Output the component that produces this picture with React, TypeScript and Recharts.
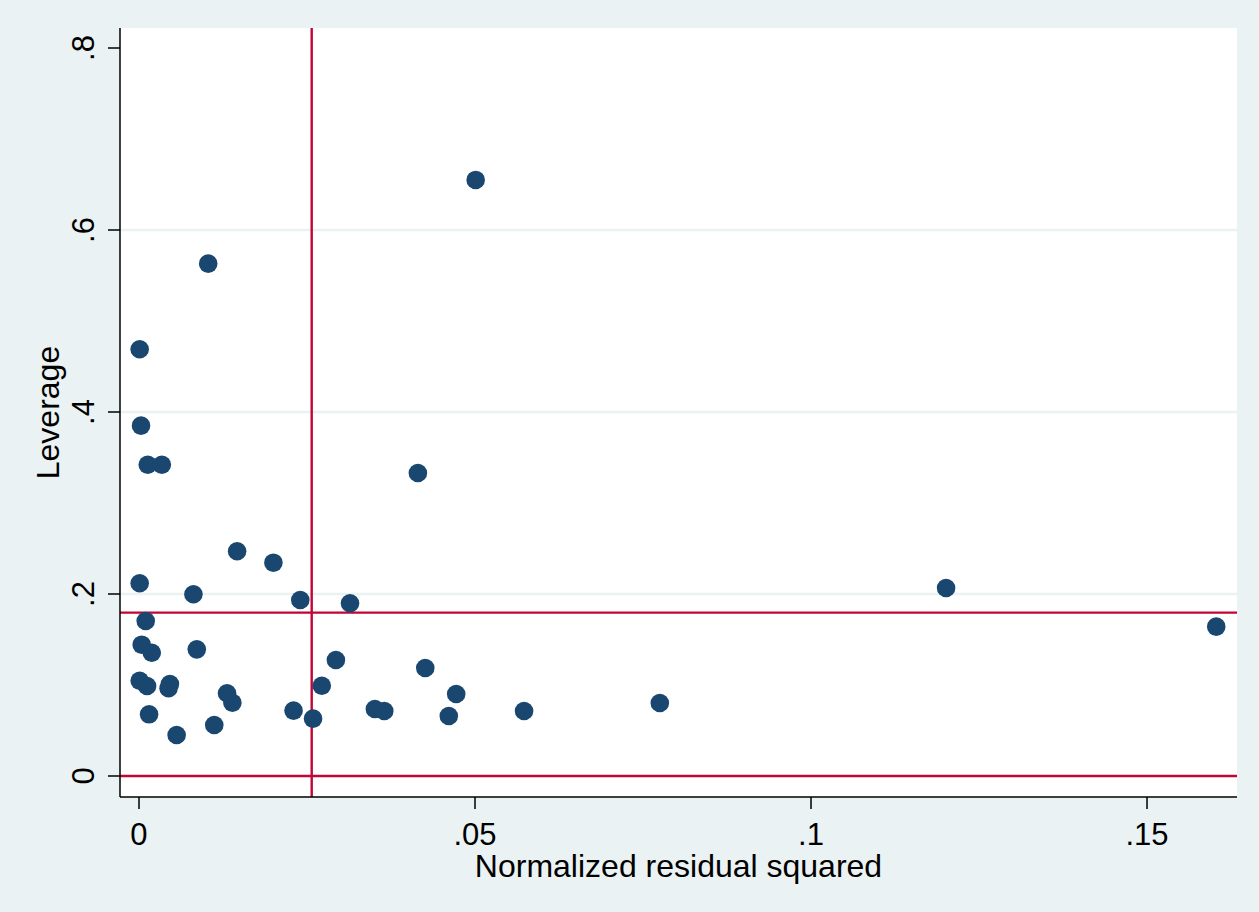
import {
  CartesianGrid,
  ReferenceLine,
  Scatter,
  ScatterChart,
  XAxis,
  YAxis,
} from "recharts";

// normalized residual squared (x) and leverage (y), one entry per observation
const residSq = [
  0.0501, 0.0103, 0.0001, 0.0003, 0.0013, 0.0034, 0.0415, 0.0146, 0.02, 0.0001,
  0.1201, 0.0081, 0.024, 0.0314, 0.001, 0.1603, 0.0004, 0.0019, 0.0086, 0.0293,
  0.0426, 0.0001, 0.0012, 0.0046, 0.0044, 0.0272, 0.0131, 0.0472, 0.0139, 0.0775,
  0.0015, 0.023, 0.0351, 0.0365, 0.0573, 0.0259, 0.0461, 0.0112, 0.0056,
];
const leverage = [
  0.655, 0.563, 0.469, 0.385, 0.342, 0.342, 0.333, 0.247, 0.2344, 0.2118,
  0.2066, 0.1997, 0.1934, 0.1898, 0.1703, 0.1641, 0.1443, 0.1354, 0.1392, 0.1275,
  0.1187, 0.1047, 0.0989, 0.1011, 0.0964, 0.0992, 0.0909, 0.0901, 0.0805, 0.0802,
  0.0678, 0.0718, 0.0736, 0.0714, 0.0714, 0.063, 0.0659, 0.056, 0.0451,
];

const xTicks = [0, 0.05, 0.1, 0.15];
const yTicks = [0, 0.2, 0.4, 0.6, 0.8];
const gridValues = [0.2, 0.4, 0.6];

// cutoffs: mean residual squared and leverage threshold
const meanResidSq = 0.0257;
const levCutoff = 0.1795;

const points = residSq.map((x, i) => ({ x, y: leverage[i] }));

const FONT = '"Liberation Sans", Arial, sans-serif';
const NAVY = "#1A476F";
const RED = "#C10534";
const BG = "#EAF2F3";

const fmt = (v: number) => (v === 0 ? "0" : String(v).replace(/^0/, ""));

function YTick({ x, y, payload }: any) {
  return (
    <text
      x={x}
      y={y}
      transform={`rotate(-90 ${x} ${y})`}
      textAnchor="middle"
      fontFamily={FONT}
      fontSize={31}
      fill="#000"
    >
      {fmt(payload.value)}
    </text>
  );
}

function Dot({ cx, cy }: any) {
  return <circle cx={cx} cy={cy} r={9.3} fill={NAVY} />;
}

export default function App() {
  return (
    <div
      style={{
        position: "absolute",
        left: 0,
        top: 0,
        width: 1259,
        height: 912,
        background: BG,
        fontFamily: FONT,
      }}
    >
      <ScatterChart
        width={1259}
        height={912}
        margin={{ top: 28, right: 22, bottom: 25, left: 40 }}
      >
        <CartesianGrid
          vertical={false}
          fill="#fff"
          stroke={BG}
          strokeWidth={2.5}
          horizontalValues={gridValues}
        />
        <XAxis
          type="number"
          dataKey="x"
          domain={[-0.002827, 0.16339]}
          ticks={xTicks}
          tickFormatter={fmt}
          allowDataOverflow
          height={90}
          tickSize={12}
          tickMargin={14}
          axisLine={{ stroke: "#000", strokeWidth: 1.5 }}
          tickLine={{ stroke: "#000", strokeWidth: 1.5 }}
          tick={{ fill: "#000", fontSize: 31, fontFamily: FONT }}
          label={{
            value: "Normalized residual squared",
            position: "insideBottom",
            offset: 10,
            fill: "#000",
            fontSize: 32,
            fontFamily: FONT,
          }}
        />
        <YAxis
          type="number"
          dataKey="y"
          domain={[-0.02308, 0.82198]}
          ticks={yTicks}
          allowDataOverflow
          width={80}
          tickSize={12}
          tickMargin={14}
          axisLine={{ stroke: "#000", strokeWidth: 1.5 }}
          tickLine={{ stroke: "#000", strokeWidth: 1.5 }}
          tick={<YTick />}
          label={{
            value: "Leverage",
            angle: -90,
            position: "insideLeft",
            offset: 8,
            fill: "#000",
            fontSize: 32,
            fontFamily: FONT,
            style: { textAnchor: "middle" },
          }}
        />
        <ReferenceLine y={0} stroke={RED} strokeWidth={2.4} />
        <ReferenceLine y={levCutoff} stroke={RED} strokeWidth={2.4} />
        <ReferenceLine x={meanResidSq} stroke={RED} strokeWidth={2.4} />
        <Scatter data={points} shape={<Dot />} isAnimationActive={false} />
      </ScatterChart>
    </div>
  );
}
